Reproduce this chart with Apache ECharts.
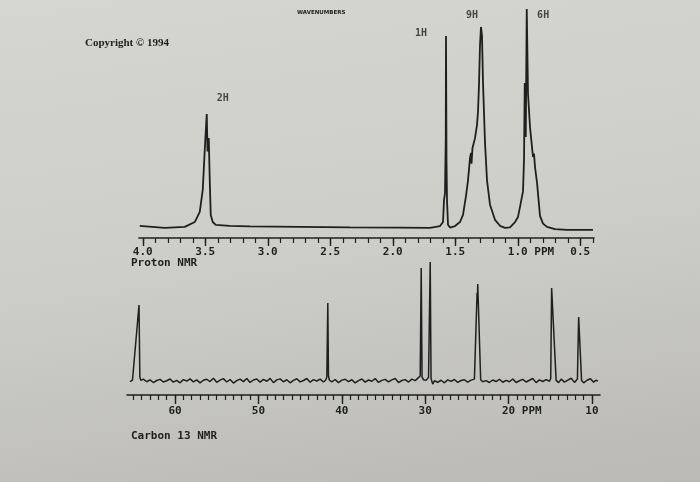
<!DOCTYPE html>
<html><head><meta charset="utf-8">
<script src="https://cdn.jsdelivr.net/npm/echarts@6/dist/echarts.min.js"></script>
<style>
html,body{margin:0;padding:0;}
body{width:700px;height:482px;background:linear-gradient(172deg,#d5d5d1 0%,#cdcdc9 50%,#bab9b5 100%);}
#c{width:700px;height:482px;}
</style></head><body><div id="c"></div>
<script>
// Proton NMR (ppm, relative intensity)
const protonPpm = [4.024,3.824,3.664,3.584,3.544,3.520,3.504,3.488,3.482,3.476,3.472,3.464,3.456,3.440,3.416,3.303,3.143,2.743,2.343,1.942,1.702,1.622,1.598,1.590,1.582,1.576,1.574,1.570,1.566,1.558,1.542,1.502,1.462,1.438,1.414,1.398,1.382,1.374,1.370,1.362,1.354,1.342,1.326,1.318,1.310,1.302,1.294,1.286,1.278,1.262,1.246,1.222,1.182,1.142,1.102,1.062,1.022,0.998,0.982,0.958,0.950,0.944,0.936,0.928,0.918,0.902,0.878,0.870,0.862,0.846,0.822,0.798,0.766,0.702,0.606,0.502,0.398];
const protonIntensity = [0.5,-0.4,0,2.2,6.8,16.7,34.7,50.9,34,38,40.1,21,5.4,2.2,0.9,0.5,0.2,0,-0.2,-0.3,-0.4,0.4,2.2,12,15.3,40,86,30,12,1,-0.3,0.4,2.2,5.4,14,21,31,33.3,28.5,35.6,36.5,40,46,52,64,82,90.1,86,65,38,21,10,3.2,0.5,-0.4,-0.2,2.2,4.5,9,16,30,64.9,40.5,98.2,60,45,31.5,33,27,20,5,1.5,0,-1,-1.3,-1.3,-1.3];
const protonTicks = [4.0,3.5,3.0,2.5,2.0,1.5,1.0,0.5];
const protonTags = ['2H','1H','9H','6H'];
const protonTagPpm = [3.36,1.774,1.366,0.797];
const protonTagLevel = [58,87.4,95.5,95.5];

// Carbon 13 NMR (ppm, relative intensity)
const carbonPpm = [65.4,65.1,64.9,64.32,64.22,64.1,63.8,63.4,63.0,62.6,62.2,61.8,61.4,61.0,60.6,60.2,59.8,59.4,59.0,58.6,58.2,57.8,57.4,57.0,56.6,56.2,55.8,55.4,55.0,54.6,54.2,53.8,53.4,53.0,52.6,52.2,51.8,51.4,51.0,50.6,50.2,49.8,49.4,49.0,48.6,48.2,47.8,47.4,47.0,46.6,46.2,45.8,45.4,45.0,44.6,44.2,43.8,43.4,43.0,42.6,42.2,41.95,41.8,41.68,41.6,41.5,41.2,40.8,40.4,40.0,39.6,39.2,38.8,38.4,38.0,37.6,37.2,36.8,36.4,36.0,35.6,35.2,34.8,34.4,34.0,33.6,33.2,32.8,32.4,32.0,31.6,31.2,30.85,30.6,30.48,30.38,30.2,29.9,29.6,29.4,29.3,29.1,28.9,28.5,28.1,27.7,27.3,26.9,26.5,26.1,25.7,25.3,24.9,24.5,24.1,23.88,23.78,23.74,23.70,23.35,23.1,22.7,22.3,21.9,21.5,21.1,20.7,20.3,19.9,19.5,19.1,18.7,18.3,17.9,17.5,17.1,16.7,16.3,15.9,15.5,15.1,14.95,14.84,14.3,14.0,13.7,13.3,12.9,12.5,12.1,11.75,11.6,11.25,11.0,10.6,10.2,9.8,9.5,9.3];
const carbonIntensity = [-0.5,0.8,1.5,60.3,3,0.5,1.5,-0.6,0.9,-1.2,0.4,1.3,-0.8,0.2,1.6,-0.9,0.5,-1.4,1.1,0.0,1.7,-0.7,0.9,-1.5,0.6,1.4,-0.4,2.2,-1.0,0.7,1.9,-0.8,1.2,-1.6,0.3,1.5,-0.5,2.0,-1.1,0.8,1.6,-0.9,1.3,-0.2,2.1,-1.3,0.9,1.7,-0.6,1.0,-1.4,0.5,1.8,-0.7,0.4,2.0,-1.0,1.1,0.0,1.5,-0.8,0.6,3,61.9,4,0.8,-0.6,1.2,-1.3,0.7,1.4,-0.5,1.0,-1.5,0.3,1.6,-0.9,0.8,-0.2,1.9,-1.1,0.5,1.3,-0.7,0.9,2.0,-1.2,0.4,1.1,-0.8,1.5,0.3,2.5,4,89.7,3,1.0,0.5,3,94.4,2,-2.5,0.2,-1.0,0.6,-1.4,0.9,-0.3,1.2,-1.1,0.4,1.0,-0.9,0.7,1.5,2,70,62,77,1.0,-0.6,0.3,-1.2,0.8,-0.4,1.4,-1.0,0.5,-0.6,1.6,-1.2,0.2,1.3,-0.8,0.6,2.0,-1.3,0.9,-0.4,1.1,-0.2,2,73.8,0.5,-1.3,1.5,-0.9,0.7,2.2,-1.1,1.5,50.8,0.5,-1.4,0.6,1.8,-0.9,0.8,-0.3];
const carbonTicks = [60,50,40,30,20,10];

const INK = '#1f1f1f';
const MONO = "'DejaVu Sans Mono', monospace";

function minorList(lo, hi, step) {
  const out = [];
  for (let k = Math.ceil(lo / step - 1e-9); k * step <= hi + 1e-9; k++) out.push(+(k * step).toFixed(3));
  return out;
}
const pMin = 0.39, pMax = 4.03, cMin = 9.04, cMax = 65.76;

const chart = echarts.init(document.getElementById('c'), null, {renderer: 'canvas'});
const labelStyle = {color: INK, fontFamily: MONO, fontSize: 11, fontWeight: 'bold'};

chart.setOption({
  backgroundColor: 'transparent',
  animation: false,
  grid: [
    {left: 139, right: 106, top: 5, bottom: 244},
    {left: 127, right: 100, top: 255, bottom: 87}
  ],
  xAxis: [
    {gridIndex: 0, type: 'value', min: pMin, max: pMax, inverse: true, position: 'bottom',
     axisLine: {onZero: false, lineStyle: {color: INK, width: 1.6}},
     axisTick: {customValues: protonTicks, length: 8, lineStyle: {color: INK, width: 1.4}},
     axisLabel: Object.assign({customValues: protonTicks, margin: 9,
       formatter: v => Math.abs(v - 1) < 1e-6 ? '    1.0 PPM' : v.toFixed(1)}, labelStyle),
     splitLine: {show: false}},
    {gridIndex: 0, type: 'value', min: pMin, max: pMax, inverse: true, position: 'bottom', offset: 0,
     axisLine: {show: false, onZero: false},
     axisTick: {customValues: minorList(0.4, 4.0, 0.1), length: 5, lineStyle: {color: INK, width: 1.2}},
     axisLabel: {show: false}, splitLine: {show: false}},
    {gridIndex: 1, type: 'value', min: cMin, max: cMax, inverse: true, position: 'bottom',
     axisLine: {onZero: false, lineStyle: {color: INK, width: 1.6}},
     axisTick: {customValues: carbonTicks, length: 9, lineStyle: {color: INK, width: 1.4}},
     axisLabel: Object.assign({customValues: carbonTicks, margin: 11,
       formatter: v => v === 20 ? '    20 PPM' : String(v)}, labelStyle),
     splitLine: {show: false}},
    {gridIndex: 1, type: 'value', min: cMin, max: cMax, inverse: true, position: 'bottom', offset: 0,
     axisLine: {show: false, onZero: false},
     axisTick: {customValues: minorList(10, 65, 1), length: 5, lineStyle: {color: INK, width: 1.2}},
     axisLabel: {show: false}, splitLine: {show: false}}
  ],
  yAxis: [
    {gridIndex: 0, type: 'value', min: -5, max: 100, show: false},
    {gridIndex: 1, type: 'value', min: -11.1, max: 100, show: false}
  ],
  series: [
    {type: 'line', xAxisIndex: 0, yAxisIndex: 0, showSymbol: false, smooth: false,
     lineStyle: {color: INK, width: 1.8}, data: protonPpm.map((p, i) => [p, protonIntensity[i]])},
    {type: 'line', xAxisIndex: 2, yAxisIndex: 1, showSymbol: false, smooth: false,
     lineStyle: {color: INK, width: 1.5}, data: carbonPpm.map((p, i) => [p, carbonIntensity[i]])},
    {type: 'scatter', xAxisIndex: 0, yAxisIndex: 0, symbolSize: 0, silent: true,
     label: {show: true, position: 'inside', formatter: p => p.data[2], color: INK, fontFamily: MONO, fontSize: 10, fontWeight: 'bold'},
     data: protonTags.map((t, i) => [protonTagPpm[i], protonTagLevel[i], t])}
  ],
  graphic: [
    {type: 'text', left: 85, top: 38, style: {text: 'Copyright © 1994', fill: '#222', font: "bold 11px 'Liberation Serif', serif"}},
    {type: 'text', left: 297, top: 10, style: {text: 'WAVENUMBERS', fill: '#222', font: "bold 5.5px 'DejaVu Sans', sans-serif"}},
    {type: 'text', left: 131, top: 258, style: {text: 'Proton NMR', fill: INK, font: "bold 11px 'DejaVu Sans Mono', monospace"}},
    {type: 'text', left: 131, top: 431, style: {text: 'Carbon 13 NMR', fill: INK, font: "bold 11px 'DejaVu Sans Mono', monospace"}}
  ]
});
</script></body></html>
